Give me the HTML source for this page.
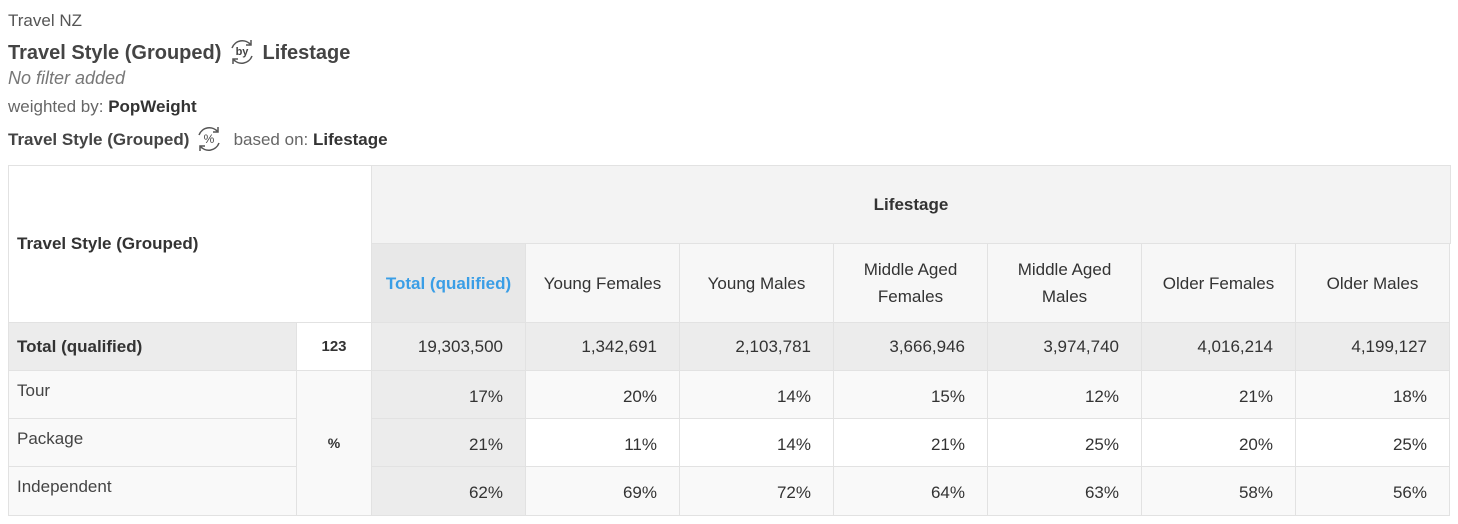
<!DOCTYPE html>
<html><head><meta charset="utf-8">
<style>
body{margin:0;width:1458px;height:524px;background:#fff;font-family:"Liberation Sans",sans-serif;color:#333;position:relative;overflow:hidden}
.t{position:absolute;white-space:nowrap}
.c{position:absolute;box-sizing:border-box;border-right:1px solid #e2e2e2;border-bottom:1px solid #e2e2e2;display:flex;align-items:center;font-size:17px;color:#333}
.r{justify-content:flex-end;padding-right:22px}
.m{justify-content:center;text-align:center;line-height:27px}
.l{padding-left:8px}
</style></head><body>
<div class="t" style="left:8px;top:11px;font-size:17px;color:#555">Travel NZ</div>
<div class="t" style="left:8px;top:37px;font-size:20px;font-weight:bold;color:#444">Travel Style (Grouped)
<svg width="30" height="30" viewBox="0 0 30 30" style="vertical-align:-8px"><path d="M5 11 A11 11 0 0 1 24 8" fill="none" stroke="#555" stroke-width="1.5"/><path d="M25 19 A11 11 0 0 1 6 22" fill="none" stroke="#555" stroke-width="1.5"/><path d="M24 3 L24 8 L19 8" fill="none" stroke="#555" stroke-width="1.5"/><path d="M6 27 L6 22 L11 22" fill="none" stroke="#555" stroke-width="1.5"/><text x="15" y="18" font-size="11" text-anchor="middle" fill="#444" font-family="Liberation Sans">by</text></svg> Lifestage</div>
<div class="t" style="left:8px;top:68px;font-size:18px;font-style:italic;color:#777">No filter added</div>
<div class="t" style="left:8px;top:97px;font-size:17px;color:#666">weighted by: <b style="color:#333">PopWeight</b></div>
<div class="t" style="left:8px;top:124px;font-size:17px;color:#666"><b style="color:#444">Travel Style (Grouped)</b>
<svg width="30" height="30" viewBox="0 0 30 30" style="vertical-align:-9px"><path d="M5 11 A11 11 0 0 1 24 8" fill="none" stroke="#555" stroke-width="1.5"/><path d="M25 19 A11 11 0 0 1 6 22" fill="none" stroke="#555" stroke-width="1.5"/><path d="M24 3 L24 8 L19 8" fill="none" stroke="#555" stroke-width="1.5"/><path d="M6 27 L6 22 L11 22" fill="none" stroke="#555" stroke-width="1.5"/><text x="15" y="19" font-size="12" text-anchor="middle" fill="#444" font-family="Liberation Sans">%</text></svg> &nbsp;based on: <b style="color:#333">Lifestage</b></div>

<script>
const cols=["Total (qualified)","Young Females","Young Males","Middle Aged<br>Females","Middle Aged<br>Males","Older Females","Older Males"];
const totals=["19,303,500","1,342,691","2,103,781","3,666,946","3,974,740","4,016,214","4,199,127"];
const rows=["Tour","Package","Independent"];
const vals=[[17,20,14,15,12,21,18],[21,11,14,21,25,20,25],[62,69,72,64,63,58,56]];
const cx=i=>372+i*154;
const rowY=[323,371,419,467,516];
function cell(x,y,w,h,html,cls,bg,name,extra){
 const d=document.createElement('div');
 d.className='c '+cls;
 d.style.left=x+'px';d.style.top=y+'px';d.style.width=w+'px';d.style.height=h+'px';d.style.background=bg;
 if(extra)d.style.cssText+=extra;
 d.innerHTML=html;
 
 
 document.body.appendChild(d);return d;
}
cell(8,165,364,158,'Travel Style (Grouped)','l','#fff','row-header-title','font-weight:bold;border-left:1px solid #e2e2e2;border-top:1px solid #e2e2e2');
cell(372,165,1079,79,'Lifestage','m','#f3f3f3','column-header-lifestage','font-weight:bold;border-top:1px solid #e2e2e2');
cols.forEach((c,i)=>{
 const d=cell(cx(i),244,154,79,c,'m',i==0?'#e8e8e8':'#f7f7f7','column-header',i==0?'color:#3a9ee6;font-weight:bold':'');
 
});
cell(8,323,289,48,'Total (qualified)','l','#ececec','total-row-label','font-weight:bold;border-left:1px solid #e2e2e2');
cell(297,323,75,48,'123','m','#fff','base-count','font-weight:bold;font-size:15px');
totals.forEach((t,i)=>{
 const d=cell(cx(i),323,154,48,t,'r','#ececec','total-cell');
 
});
cell(297,371,75,145,'%','m','#f9f9f9','stat-percent','font-weight:bold;font-size:14px');
rows.forEach((r,j)=>{
 const y=rowY[j+1],h=rowY[j+2]-rowY[j+1];
 const lbl=cell(8,y,289,h,r,'l','#f9f9f9','row-label','border-left:1px solid #e2e2e2;align-items:flex-start;padding-top:10px;color:#444');
 
 vals[j].forEach((v,i)=>{
  const bg=i==0?'#ececec':(j==1?'#fff':'#f9f9f9');
  const d=cell(cx(i),y,154,h,v+'%','r',bg,'value-cell','padding-top:4px');
  
 });
});
</script>
</body></html>
